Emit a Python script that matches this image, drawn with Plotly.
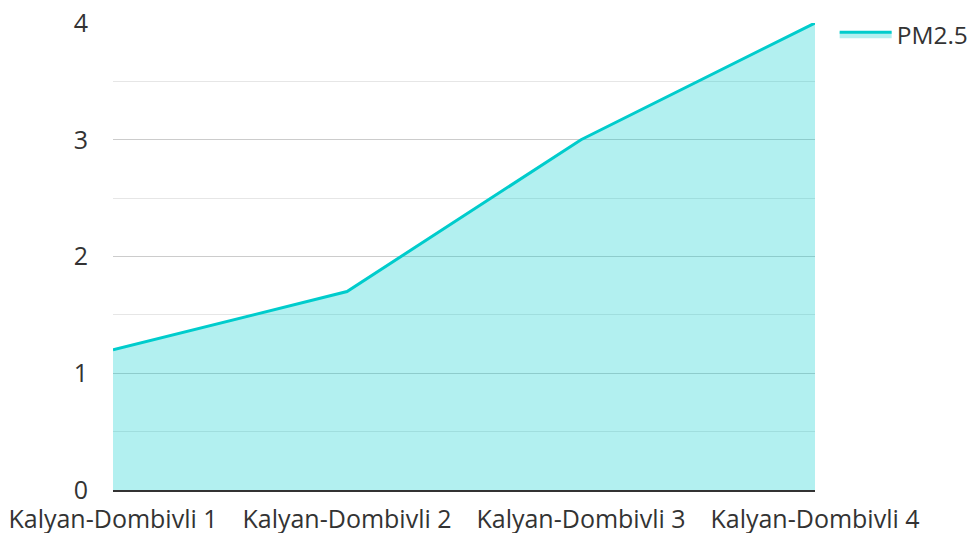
import plotly.graph_objects as go

categories = ["Kalyan-Dombivli 1", "Kalyan-Dombivli 2", "Kalyan-Dombivli 3", "Kalyan-Dombivli 4"]
pm25 = [1.2, 1.7, 3.0, 4.0]
series_name = "PM2.5"

fig = go.Figure()
fig.add_trace(go.Scatter(
    x=list(range(len(categories))), y=pm25, name=series_name,
    mode="lines", fill="tozeroy",
    line=dict(color="rgb(0,204,204)", width=3),
    fillcolor="rgba(0,204,204,0.3)",
))

fig.update_layout(
    width=973, height=533,
    margin=dict(l=113, r=158, t=23, b=43, autoexpand=False),
    paper_bgcolor="white", plot_bgcolor="white",
    font=dict(family="Open Sans", size=25, color="#333333"),
    showlegend=True,
    legend=dict(x=1.028, y=1.024, xanchor="left", yanchor="top", itemwidth=52,
                font=dict(size=24.5, color="#333333"), bgcolor="rgba(0,0,0,0)"),
    xaxis=dict(
        range=[0, 3], tickvals=list(range(len(categories))), ticktext=categories,
        showgrid=False, zeroline=False, showline=True, linecolor="#333333", linewidth=2,
        ticks="", ticklabelstandoff=6, automargin=False,
    ),
    yaxis=dict(
        range=[0, 4], dtick=1, showgrid=True, gridcolor="#cccccc", gridwidth=1,
        zeroline=False, showline=False, ticks="", ticklabelstandoff=24, automargin=False,
        minor=dict(dtick=0.5, showgrid=True, gridcolor="#e6e6e6", gridwidth=1),
    ),
)

fig.write_html("out.html", config={"displayModeBar": False},
               post_script="document.body.style.margin='0';document.body.style.overflow='hidden';")
